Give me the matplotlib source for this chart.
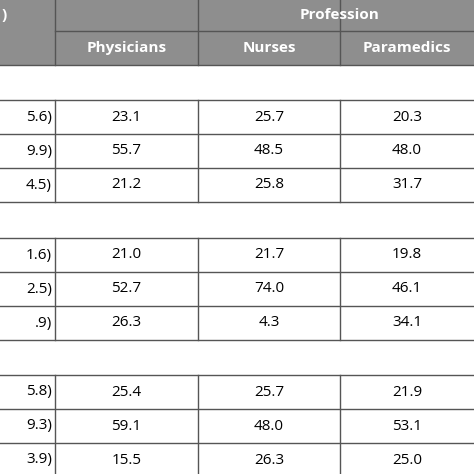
import matplotlib
matplotlib.use("Agg")
import matplotlib.pyplot as plt

professions = ["Physicians", "Nurses", "Paramedics"]
left_labels = ["5.6)", "9.9)", "4.5)", "1.6)", "2.5)", ".9)", "5.8)", "9.3)", "3.9)"]
physicians = [23.1, 55.7, 21.2, 21.0, 52.7, 26.3, 25.4, 59.1, 15.5]
nurses = [25.7, 48.5, 25.8, 21.7, 74.0, 4.3, 25.7, 48.0, 26.3]
paramedics = [20.3, 48.0, 31.7, 19.8, 46.1, 34.1, 21.9, 53.1, 25.0]

fig = plt.figure(figsize=(4.74, 4.74), dpi=100)
ax = fig.add_axes([0, 0, 1, 1])
ax.set_xlim(0, 474); ax.set_ylim(474, 0); ax.axis("off")
font = "Open Sans"
gray = "#8e8e8e"; lc = "#555555"
xs = [0, 55, 198, 340, 474]

ax.add_patch(plt.Rectangle((0, 0), 474, 65, color=gray, lw=0))
ax.plot([55, 474], [31, 31], color=lc, lw=1)
for x in xs[1:4]:
    ax.plot([x, x], [0, 65], color=lc, lw=1)
ax.plot([0, 474], [65, 65], color=lc, lw=1)
ax.text(340, 15, "Profession", ha="center", va="center", color="white", fontsize=11, fontweight="bold", family=font)
for i, p in enumerate(professions):
    ax.text((xs[i+1] + xs[i+2]) / 2, 48, p, ha="center", va="center", color="white", fontsize=11, fontweight="bold", family=font)
ax.text(2, 15, ")", ha="left", va="center", color="white", fontsize=11, fontweight="bold", family=font)

starts = [100, 238, 375]
rh = 34
for s in range(3):
    y0 = starts[s]
    ax.plot([0, 474], [y0, y0], color=lc, lw=1)
    for r in range(3):
        k = s * 3 + r
        yc = y0 + rh * r + rh / 2
        yb = y0 + rh * (r + 1)
        ax.plot([0, 474], [yb, yb], color=lc, lw=1)
        ax.text(52, yc, left_labels[k], ha="right", va="center", fontsize=11, family=font)
        for j, vals in enumerate([physicians, nurses, paramedics]):
            ax.text((xs[j+1] + xs[j+2]) / 2, yc, f"{vals[k]:.1f}", ha="center", va="center", fontsize=11, family=font)
    for x in xs[1:4]:
        ax.plot([x, x], [y0, y0 + 3 * rh], color=lc, lw=1)

fig.savefig("out.png", dpi=100)
